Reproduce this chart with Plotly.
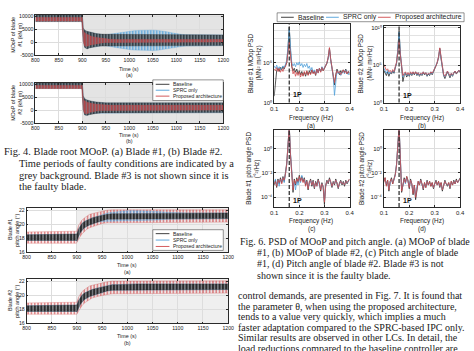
import plotly.graph_objects as go

W, H = 474, 351
SANS = "Liberation Sans, Arial, sans-serif"
SERIF = "Liberation Serif, Times New Roman, serif"
TXT = "#222222"

C_BASE = "#2b2b2b"
C_SPRC = "#4f9fd9"
C_PROP = "#cf4a4c"

# ---------------- time-domain data (envelopes of the oscillating signals) ----------------
T_M = [800, 899, 900, 902, 905, 910, 915, 920, 930, 940, 950, 960, 970, 980, 990,
       1000, 1010, 1020, 1030, 1040, 1050, 1060, 1070, 1080, 1090, 1100, 1110, 1120, 1150, 1200]

M1_BASE_HI = [10400, 10400, 10400, 5500, 4600, 4200, 3900, 3600, 3300, 3100, 3000, 3000, 3000, 3000, 3000,
              2900, 2900, 2900, 2900, 2900, 2900, 2900, 2900, 2800, 2800, 2800, 2800, 2800, 2800, 2800]
M1_BASE_LO = [7900, 7900, 7900, 500, -2000, -2600, -2200, -1900, -1700, -1500, -1500, -1400, -1400, -1400, -1400,
              -1400, -1400, -1400, -1400, -1400, -1400, -1400, -1400, -1300, -1300, -1300, -1300, -1300, -1300, -1300]
M1_SPRC_HI = [10300, 10300, 10300, 5400, 4500, 4100, 3800, 3500, 3200, 3000, 2900, 3100, 3400, 3700, 4000,
              4200, 4400, 4500, 4600, 4600, 4600, 4500, 4300, 4000, 3600, 3200, 3000, 2900, 2800, 2800]
M1_SPRC_LO = [8000, 8000, 8000, 400, -1900, -2500, -2100, -1800, -1600, -1400, -1400, -1700, -2000, -2300, -2600,
              -2800, -3000, -3100, -3200, -3200, -3200, -3100, -2900, -2600, -2300, -2000, -1700, -1500, -1300, -1300]
M1_PROP_HI = [9500, 9500, 9500, 4500, 3500, 3000, 2500, 2200, 1800, 1500, 1200, 1100, 1000, 1000, 1000,
              1000, 1000, 1000, 1000, 1000, 1000, 1000, 1000, 1000, 1000, 1000, 1000, 1000, 1000, 1000]
M1_PROP_LO = [8100, 8100, 8100, 0, -1500, -1600, -1200, -900, -600, -300, -100, 0, 100, 100, 100,
              100, 100, 100, 100, 100, 100, 100, 100, 100, 100, 100, 100, 100, 100, 100]

M2_BASE_HI = [10500, 10500, 10500, 5600, 4500, 4000, 3700, 3500, 3200, 3000, 2900, 2900, 2900, 2900, 2900,
              2900, 2900, 2900, 2900, 2900, 2900, 2900, 2900, 2900, 2900, 2900, 2900, 2900, 2900, 2900]
M2_BASE_LO = [8400, 8400, 8400, 200, -1800, -2000, -1700, -1400, -1200, -1000, -900, -900, -900, -900, -900,
              -900, -900, -900, -900, -900, -900, -900, -900, -900, -900, -900, -900, -900, -900, -900]
M2_SPRC_HI = [10400, 10400, 10400, 5500, 4400, 3900, 3600, 3400, 3100, 2900, 2800, 2800, 2800, 2800, 2800,
              2800, 2800, 2800, 2800, 2800, 2800, 2800, 2800, 2800, 2800, 2800, 2800, 2800, 2800, 2800]
M2_SPRC_LO = [8500, 8500, 8500, 300, -1700, -1900, -1600, -1300, -1100, -1000, -1000, -1100, -1100, -1000, -1000,
              -900, -900, -900, -900, -900, -900, -900, -900, -900, -900, -900, -900, -900, -900, -900]
M2_PROP_HI = [9600, 9600, 9600, 4500, 3600, 3100, 2800, 2600, 2300, 2100, 2000, 1900, 1900, 1900, 1900,
              1900, 1900, 1900, 1900, 1900, 1900, 1900, 1900, 1900, 1900, 1900, 1900, 1900, 1900, 1900]
M2_PROP_LO = [8400, 8400, 8400, 0, -1200, -1300, -900, -600, -300, -100, 0, 100, 100, 100, 100,
              100, 100, 100, 100, 100, 100, 100, 100, 100, 100, 100, 100, 100, 100, 100]

T_P = [800, 899, 900, 903, 906, 910, 915, 920, 925, 930, 940, 950, 960, 970, 980,
       1000, 1020, 1040, 1060, 1080, 1100, 1120, 1150, 1200]

P1_BASE_HI = [18.5, 18.5, 18.6, 19.3, 19.7, 20.1, 20.4, 20.6, 20.8, 20.9, 21.1, 21.3, 21.4, 21.5, 21.5,
              21.6, 21.6, 21.6, 21.6, 21.6, 21.6, 21.6, 21.6, 21.6]
P1_BASE_LO = [17.7, 17.7, 17.6, 18.2, 18.7, 19.1, 19.5, 19.7, 19.9, 20.1, 20.3, 20.5, 20.7, 20.8, 20.8,
              20.8, 20.8, 20.8, 20.8, 20.8, 20.8, 20.8, 20.8, 20.8]
P1_SPRC_HI = [18.5, 18.5, 18.6, 19.3, 19.7, 20.1, 20.4, 20.6, 20.8, 20.9, 21.1, 21.4, 21.6, 21.7, 21.8,
              21.9, 21.9, 21.9, 21.8, 21.7, 21.6, 21.6, 21.6, 21.6]
P1_SPRC_LO = [17.7, 17.7, 17.6, 18.2, 18.7, 19.1, 19.5, 19.7, 19.9, 20.1, 20.3, 20.4, 20.5, 20.5, 20.5,
              20.5, 20.5, 20.5, 20.6, 20.7, 20.8, 20.8, 20.8, 20.8]
P1_PROP_HI = [18.9, 18.9, 19.0, 19.8, 20.2, 20.6, 20.9, 21.2, 21.4, 21.5, 21.7, 21.9, 22.0, 22.05, 22.05,
              22.05, 22.05, 22.05, 22.05, 22.05, 22.05, 22.05, 22.05, 22.05]
P1_PROP_LO = [17.3, 17.3, 17.3, 17.8, 18.2, 18.6, 19.0, 19.3, 19.5, 19.7, 19.9, 20.1, 20.2, 20.3, 20.3,
              20.3, 20.3, 20.3, 20.3, 20.3, 20.3, 20.3, 20.3, 20.3]

P2_BASE_HI = [18.5, 18.5, 18.6, 19.2, 19.6, 20.0, 20.3, 20.5, 20.7, 20.8, 21.0, 21.2, 21.4, 21.5, 21.5,
              21.6, 21.6, 21.6, 21.6, 21.6, 21.6, 21.6, 21.6, 21.6]
P2_BASE_LO = [17.7, 17.7, 17.6, 18.1, 18.6, 19.0, 19.4, 19.6, 19.8, 20.0, 20.2, 20.4, 20.6, 20.7, 20.8,
              20.8, 20.8, 20.8, 20.8, 20.8, 20.8, 20.8, 20.8, 20.8]
P2_SPRC_HI = [18.5, 18.5, 18.6, 19.2, 19.6, 20.0, 20.3, 20.5, 20.7, 20.8, 21.0, 21.2, 21.4, 21.5, 21.5,
              21.6, 21.6, 21.6, 21.6, 21.6, 21.6, 21.6, 21.6, 21.6]
P2_SPRC_LO = [17.7, 17.7, 17.6, 18.1, 18.6, 19.0, 19.4, 19.6, 19.8, 20.0, 20.2, 20.4, 20.6, 20.7, 20.8,
              20.8, 20.8, 20.8, 20.8, 20.8, 20.8, 20.8, 20.8, 20.8]
P2_PROP_HI = [18.9, 18.9, 19.0, 19.7, 20.1, 20.5, 20.8, 21.1, 21.3, 21.4, 21.6, 21.8, 21.9, 22.0, 22.0,
              22.05, 22.05, 22.05, 22.05, 22.05, 22.05, 22.05, 22.05, 22.05]
P2_PROP_LO = [17.3, 17.3, 17.3, 17.7, 18.1, 18.5, 18.9, 19.2, 19.4, 19.6, 19.8, 20.0, 20.1, 20.2, 20.3,
              20.3, 20.3, 20.3, 20.3, 20.3, 20.3, 20.3, 20.3, 20.3]

# ---------------- PSD data (log10 of PSD) ----------------
FREQ = [0.100, 0.105, 0.110, 0.115, 0.120, 0.125, 0.130, 0.135, 0.140, 0.145,
        0.150, 0.155, 0.160, 0.165, 0.170, 0.175, 0.180, 0.185, 0.190, 0.195,
        0.200, 0.205, 0.210, 0.215, 0.220, 0.225, 0.230, 0.235, 0.240, 0.245,
        0.250, 0.255, 0.260, 0.265, 0.270, 0.275, 0.280, 0.285, 0.290, 0.295,
        0.300, 0.305, 0.310, 0.315, 0.320, 0.325, 0.330, 0.335, 0.340, 0.345,
        0.350, 0.355, 0.360, 0.365, 0.370, 0.375, 0.380, 0.385, 0.390, 0.395, 0.400]

PA_BASE = [0.8, 2.5, 4.0, 4.3, 3.9, 4.4, 4.1, 4.5, 4.2, 4.7,
           5.0, 6.8, 9.5, 6.5, 4.5, 4.0, 4.3, 3.8, 4.2, 3.6,
           4.0, 3.5, 3.9, 3.4, 3.8, 3.3, 3.9, 3.5, 4.0, 3.6,
           4.1, 3.7, 3.9, 3.4, 4.2, 3.8, 4.3, 3.9, 4.4, 4.0,
           4.3, 4.5, 4.9, 5.6, 6.8, 5.4, 4.3, 3.6, 2.2, 3.5,
           4.2, 3.8, 3.5, 4.0, 3.7, 4.1, 3.8, 4.2, 3.6, 3.9, 3.5]
PA_SPRC = [4.6, 4.3, 4.7, 4.2, 4.5, 4.1, 4.4, 4.6, 4.3, 4.8,
           5.3, 7.0, 9.3, 6.9, 5.0, 4.6, 4.9, 4.5, 5.0, 4.7,
           5.1, 4.6, 4.9, 4.4, 4.8, 4.5, 4.9, 4.3, 4.6, 4.0,
           4.4, 3.8, 4.1, 3.6, 4.2, 3.7, 4.3, 3.9, 4.5, 4.1,
           4.4, 4.6, 5.0, 5.6, 6.7, 5.3, 4.2, 3.4, 0.9, 3.0,
           4.0, 3.6, 3.9, 3.4, 3.8, 4.0, 3.6, 4.1, 3.7, 3.5, 3.9]
PA_PROP = [4.2, 4.0, 4.4, 3.9, 4.3, 3.8, 4.2, 3.9, 4.4, 4.5,
           5.0, 6.0, 7.6, 5.8, 4.3, 3.6, 4.0, 3.3, 3.8, 3.4,
           3.9, 3.2, 3.7, 3.3, 3.9, 3.5, 4.0, 3.4, 3.8, 3.5,
           4.1, 3.6, 3.9, 3.5, 4.2, 3.7, 4.3, 3.8, 4.4, 4.0,
           4.3, 4.6, 5.0, 5.7, 6.9, 5.4, 4.3, 3.5, 2.5, 3.4,
           4.0, 3.7, 3.9, 3.5, 3.9, 4.1, 3.7, 4.0, 3.6, 3.9, 3.7]

PB_BASE = [4.3, 4.0, 3.6, 4.1, 3.5, 4.0, 3.8, 4.2, 3.9, 4.6,
           5.2, 7.0, 9.6, 6.5, 4.2, 2.8, 3.6, 3.9, 3.4, 3.8,
           3.5, 3.9, 3.6, 4.0, 3.7, 4.1, 3.6, 3.9, 3.5, 3.8,
           3.6, 4.0, 3.7, 3.9, 3.5, 3.8, 3.6, 4.0, 3.7, 4.1,
           4.4, 4.8, 5.3, 6.0, 7.2, 5.8, 4.6, 3.6, 3.2, 3.8,
           4.1, 3.7, 3.3, 3.8, 3.5, 3.9, 4.2, 3.8, 4.0, 4.3, 4.0]
PB_SPRC = [4.6, 4.2, 3.9, 4.3, 3.8, 4.1, 3.9, 4.3, 4.0, 4.7,
           5.3, 7.1, 9.4, 6.6, 4.4, 3.4, 3.8, 4.0, 3.6, 3.9,
           3.6, 4.0, 3.7, 4.1, 3.8, 4.0, 3.7, 4.0, 3.6, 3.9,
           3.7, 4.1, 3.8, 4.0, 3.6, 3.9, 3.7, 4.1, 3.8, 4.2,
           4.5, 4.9, 5.4, 6.1, 7.2, 5.9, 4.7, 3.7, 3.4, 3.9,
           4.2, 3.8, 3.5, 3.9, 3.6, 4.0, 4.2, 3.9, 4.1, 4.3, 4.1]
PB_PROP = [5.1, 4.7, 4.3, 4.5, 4.1, 4.3, 4.0, 4.4, 4.1, 4.8,
           5.4, 6.6, 8.3, 6.3, 4.5, 3.6, 3.9, 4.1, 3.7, 4.0,
           3.7, 4.1, 3.8, 4.1, 3.8, 4.1, 3.8, 4.0, 3.7, 3.9,
           3.8, 4.1, 3.8, 4.0, 3.7, 3.9, 3.8, 4.1, 3.9, 4.2,
           4.5, 4.9, 5.4, 6.1, 7.3, 5.9, 4.7, 3.8, 3.5, 3.9,
           4.2, 3.9, 3.6, 3.9, 3.7, 4.0, 4.2, 3.9, 4.1, 4.3, 4.1]

PC_BASE = [-3.0, -2.6, -3.2, -2.5, -2.9, -2.4, -2.8, -2.3, -2.7, -2.0,
           -1.2, 0.3, 1.8, -0.5, -2.0, -3.6, -2.5, -3.0, -2.4, -2.8,
           -2.2, -2.6, -2.3, -2.7, -2.4, -3.0, -2.6, -3.4, -2.8, -2.5,
           -3.1, -2.6, -3.3, -2.7, -3.0, -2.5, -2.9, -3.5, -2.8, -3.2,
           -4.6, -3.0, -2.6, -2.9, -2.4, -2.8, -3.2, -2.7, -3.0, -2.5,
           -2.9, -3.3, -2.8, -2.6, -3.0, -2.7, -3.1, -2.6, -2.9, -2.7, -2.5]
PC_SPRC = [-2.8, -2.5, -3.0, -2.6, -3.1, -2.5, -2.7, -2.4, -2.8, -2.1,
           -1.3, 0.2, 1.8, -0.4, -2.2, -3.2, -2.8, -3.4, -2.6, -3.0,
           -2.4, -2.8, -2.2, -2.6, -2.5, -2.9, -2.7, -3.2, -2.9, -2.6,
           -3.0, -2.7, -3.2, -2.8, -3.1, -2.6, -3.0, -3.3, -2.9, -3.1,
           -4.3, -3.1, -2.7, -2.8, -2.5, -2.9, -3.1, -2.8, -2.9, -2.6,
           -2.8, -3.2, -2.9, -2.7, -2.9, -2.8, -3.0, -2.7, -2.8, -2.7, -2.6]
PC_PROP = [-2.9, -2.7, -3.1, -2.6, -2.8, -2.5, -2.9, -2.4, -2.6, -2.1,
           -1.3, 0.1, 1.8, -0.6, -2.1, -3.4, -2.6, -2.9, -2.5, -2.7,
           -2.3, -2.7, -2.4, -2.8, -2.5, -3.1, -2.7, -3.3, -2.7, -2.6,
           -3.0, -2.7, -3.2, -2.8, -3.1, -2.6, -2.8, -3.4, -2.9, -3.1,
           -4.4, -3.1, -2.7, -2.8, -2.5, -2.7, -3.1, -2.8, -2.9, -2.6,
           -2.8, -3.2, -2.9, -2.7, -2.9, -2.8, -3.0, -2.7, -2.8, -2.6, -2.5]

PD_BASE = [-2.7, -2.4, -3.0, -2.6, -3.5, -2.7, -2.4, -2.9, -2.5, -2.1,
           -1.3, 0.2, 1.8, -0.8, -3.6, -3.0, -2.4, -2.8, -2.3, -2.6,
           -3.3, -2.5, -2.9, -3.8, -3.0, -4.2, -3.2, -2.7, -3.0, -2.5,
           -2.9, -3.4, -2.8, -3.2, -2.6, -3.0, -2.7, -3.1, -2.8, -3.3,
           -2.9, -2.6, -3.0, -2.7, -3.2, -2.8, -3.5, -3.0, -2.6, -2.9,
           -3.1, -2.8, -3.3, -2.7, -3.0, -2.6, -2.9, -2.5, -2.8, -2.6, -2.4]
PD_SPRC = [-2.6, -2.5, -2.9, -2.7, -3.3, -2.8, -2.5, -2.8, -2.6, -2.2,
           -1.3, 0.2, 1.8, -0.7, -3.3, -3.1, -2.5, -2.9, -2.4, -2.7,
           -3.1, -2.6, -3.0, -3.5, -3.1, -3.9, -3.1, -2.8, -2.9, -2.6,
           -3.0, -3.3, -2.9, -3.1, -2.7, -3.0, -2.8, -3.0, -2.9, -3.2,
           -2.9, -2.7, -3.0, -2.8, -3.1, -2.9, -3.4, -3.0, -2.7, -2.9,
           -3.0, -2.9, -3.2, -2.8, -2.9, -2.7, -2.9, -2.6, -2.8, -2.6, -2.5]
PD_PROP = [-2.8, -2.4, -3.1, -2.6, -3.4, -2.7, -2.5, -2.9, -2.5, -2.2,
           -1.4, 0.1, 1.8, -0.9, -3.5, -3.0, -2.5, -2.8, -2.3, -2.7,
           -3.2, -2.6, -2.9, -3.7, -3.0, -4.0, -3.2, -2.7, -3.0, -2.6,
           -2.9, -3.3, -2.8, -3.2, -2.7, -3.0, -2.7, -3.1, -2.8, -3.2,
           -2.9, -2.7, -3.0, -2.7, -3.1, -2.8, -3.4, -3.0, -2.7, -2.9,
           -3.0, -2.8, -3.2, -2.7, -3.0, -2.7, -2.9, -2.6, -2.8, -2.6, -2.5]

LABELS = ["Baseline", "SPRC only", "Proposed architecture"]
MOOP_TICKS = [-5000, 0, 5000, 10000]
MOOP_TICKTEXT = ["-5000", "0", "5000", "10000"]
PITCH_TICKS = [16, 18, 20, 22]
TIME_TICKS = [800, 850, 900, 950, 1000, 1050, 1100, 1150, 1200]
FREQ_TICKS = [0.1, 0.2, 0.3, 0.4]
SUP = {0: "10\u2070", 5: "10\u2075", 10: "10\u00b9\u2070", -2: "10\u207b\u00b2", -4: "10\u207b\u2074"}

# ---------------- figure ----------------
fig = go.Figure()

# pixel boxes: (left, right, top, bottom)
BOX = {
    1: (32, 224, 13, 54),
    2: (32, 224, 82, 123),
    3: (23, 229, 209, 254),
    4: (23, 229, 281, 326),
    5: (276, 353, 22, 102),
    6: (388, 466, 24, 102),
    7: (276, 353, 130, 208),
    8: (388, 466, 130, 208),
}

def xdom(i):
    l, r, t, b = BOX[i]
    return [l / W, r / W]

def ydom(i):
    l, r, t, b = BOX[i]
    return [1 - b / H, 1 - t / H]

def axstyle(size):
    return dict(showline=True, linecolor="#2a2a2a", linewidth=0.6, mirror="ticks",
                ticks="inside", ticklen=2, tickwidth=0.5, tickcolor="#2a2a2a",
                showgrid=True, gridcolor="#dddddd", gridwidth=0.5, zeroline=False,
                tickfont=dict(family=SANS, size=size, color=TXT), fixedrange=True)

layout = {}
for i in range(1, 9):
    xa = "xaxis" if i == 1 else f"xaxis{i}"
    ya = "yaxis" if i == 1 else f"yaxis{i}"
    anchor_x = "y" if i == 1 else f"y{i}"
    anchor_y = "x" if i == 1 else f"x{i}"
    fs = 5.2 if i <= 4 else 6.0
    xs = axstyle(fs)
    ys = axstyle(fs)
    xs.update(domain=xdom(i), anchor=anchor_x)
    ys.update(domain=ydom(i), anchor=anchor_y)
    if i <= 4:
        xs.update(range=[800, 1200], tickvals=TIME_TICKS, ticktext=[str(v) for v in TIME_TICKS])
        if i <= 2:
            ys.update(range=[-5000, 10500 if i == 1 else 10600], tickvals=MOOP_TICKS, ticktext=MOOP_TICKTEXT)
        else:
            ys.update(range=[16, 22.3], tickvals=PITCH_TICKS, ticktext=[str(v) for v in PITCH_TICKS])
    else:
        xs.update(range=[0.1, 0.4], tickvals=FREQ_TICKS, ticktext=["0.1", "0.2", "0.3", "0.4"])
        if i <= 6:
            top = 9.9 if i == 5 else 10.26
            major = [0, 5, 10] if i == 6 else [0, 5]
            ys.update(type="log", range=[0, top], tickvals=[10 ** k for k in major],
                      ticktext=[SUP[k] for k in major],
                      minor=dict(tickvals=[10 ** k for k in range(0, 11)], showgrid=True,
                                 gridcolor="#e2e2e2", gridwidth=0.5, ticks=""))
        else:
            major = [-4, -2, 0]
            ys.update(type="log", range=[-4.8, 1.5], tickvals=[10 ** k for k in major],
                      ticktext=[SUP[k] for k in major],
                      minor=dict(tickvals=[10 ** k for k in range(-4, 2)], showgrid=True,
                                 gridcolor="#e2e2e2", gridwidth=0.5, ticks=""))
    layout[xa] = xs
    layout[ya] = ys

fig.update_layout(**layout)

def ax(i):
    return ("x" if i == 1 else f"x{i}"), ("y" if i == 1 else f"y{i}")

# grey background for faulty period
for i, col in [(1, "#e4e4e4"), (2, "#e4e4e4"), (3, "#efefef"), (4, "#efefef")]:
    xr, yr = ax(i)
    fig.add_shape(type="rect", xref=xr, yref=yr + " domain", x0=900, x1=1200, y0=0, y1=1,
                  fillcolor=col, line=dict(width=0), layer="below")

def band(i, t, hi, lo, color, bg, size, sol):
    xr, yr = ax(i)
    fig.add_trace(go.Scatter(
        x=t + t[::-1], y=hi + lo[::-1], xaxis=xr, yaxis=yr, mode="lines",
        line=dict(color=color, width=0.3), fill="toself", fillcolor=bg,
        fillpattern=dict(shape="|", size=size, solidity=sol, fgcolor=color, bgcolor=bg, fillmode="replace"),
        showlegend=False, hoverinfo="skip"))

# MOoP: SPRC (widest) behind, then baseline, then proposed on top
band(1, T_M, M1_SPRC_HI, M1_SPRC_LO, C_SPRC, "rgba(79,159,217,0.18)", 3, 0.4)
band(1, T_M, M1_BASE_HI, M1_BASE_LO, C_BASE, "rgba(50,50,50,0.3)", 3, 0.55)
band(1, T_M, M1_PROP_HI, M1_PROP_LO, C_PROP, "rgba(207,74,76,0.22)", 3, 0.45)
band(2, T_M, M2_SPRC_HI, M2_SPRC_LO, C_SPRC, "rgba(79,159,217,0.18)", 3, 0.4)
band(2, T_M, M2_BASE_HI, M2_BASE_LO, C_BASE, "rgba(50,50,50,0.3)", 3, 0.55)
band(2, T_M, M2_PROP_HI, M2_PROP_LO, C_PROP, "rgba(207,74,76,0.22)", 3, 0.45)
# pitch: proposed spikes widest behind, then SPRC, then baseline
band(3, T_P, P1_PROP_HI, P1_PROP_LO, C_PROP, "rgba(207,74,76,0.06)", 3.3, 0.3)
band(3, T_P, P1_SPRC_HI, P1_SPRC_LO, C_SPRC, "rgba(79,159,217,0.15)", 3.3, 0.35)
band(3, T_P, P1_BASE_HI, P1_BASE_LO, C_BASE, "rgba(40,40,40,0.55)", 3.3, 0.5)
band(4, T_P, P2_PROP_HI, P2_PROP_LO, C_PROP, "rgba(207,74,76,0.06)", 3.3, 0.3)
band(4, T_P, P2_SPRC_HI, P2_SPRC_LO, C_SPRC, "rgba(79,159,217,0.15)", 3.3, 0.35)
band(4, T_P, P2_BASE_HI, P2_BASE_LO, C_BASE, "rgba(40,40,40,0.55)", 3.3, 0.5)

# PSD curves
def psd(i, vals, color):
    xr, yr = ax(i)
    fig.add_trace(go.Scatter(x=FREQ, y=[10 ** v for v in vals], xaxis=xr, yaxis=yr, mode="lines",
                             line=dict(color=color, width=0.8), showlegend=False, hoverinfo="skip"))

for i, (b, s, p) in {5: (PA_BASE, PA_SPRC, PA_PROP), 6: (PB_BASE, PB_SPRC, PB_PROP),
                     7: (PC_BASE, PC_SPRC, PC_PROP), 8: (PD_BASE, PD_SPRC, PD_PROP)}.items():
    psd(i, b, C_BASE)
    psd(i, s, C_SPRC)
    psd(i, p, C_PROP)
    xr, yr = ax(i)
    fig.add_shape(type="line", xref=xr, yref=yr + " domain", x0=0.16, x1=0.16, y0=0, y1=1,
                  line=dict(color="#333333", width=1.3, dash="4px,2px"), layer="above")
    fig.add_annotation(text="1P", x=0.167, y=(1.0 if i <= 6 else -4.25), xref=xr, yref=yr,
                       showarrow=False, xanchor="left", yanchor="middle",
                       font=dict(family=SANS, size=7, color="#111111", weight="bold"))

# ---------------- text helpers ----------------
def note(text, x, y, size, xanchor="center", angle=0, family=SANS, color=TXT, style="normal"):
    fig.add_annotation(text=text, x=x / W, y=1 - y / H, xref="paper", yref="paper", showarrow=False,
                       xanchor=xanchor, yanchor="middle", textangle=angle,
                       font=dict(family=family, size=size, color=color, style=style), borderpad=0)

def ytitle(l1, l2, x1, x2, y, size):
    note(l1, x1, y, size, angle=-90)
    note(l2, x2, y, size, angle=-90)

# axis titles & sub-labels (left column)
LS = 5.4
ytitle("MOoP of blade", "#1 (kN m)", 8.5, 15.5, 33, LS)
note("Time (s)", 128, 67.5, LS)
note("(a)", 128, 74.5, LS)
ytitle("MOoP of blade", "#2 (kN m)", 8.5, 15.5, 102, LS)
note("Time (s)", 128, 134.5, LS)
note("(b)", 128, 141, LS)
ytitle("Blade #1", "pitch angle (°)", 5.5, 12.5, 231, LS)
note("Time (s)", 126, 267, LS)
note("(a)", 126, 274, LS)
ytitle("Blade #2", "pitch angle (°)", 5.5, 12.5, 303, LS)
note("Time (s)", 126, 339, LS)
note("(b)", 126, 346, LS)

# right column
PS = 6.4
ytitle("Blade #1 MOop PSD", "(MN² m²/Hz)", 252.5, 261, 62, PS)
ytitle("Blade #2 MOop PSD", "(MN² m²/Hz)", 365, 373.5, 62, PS)
note("Frequency (Hz)", 314, 117.5, PS)
note("(a)", 314, 125.5, PS)
note("Frequency (Hz)", 427, 117.5, PS)
note("(b)", 427, 125.5, PS)
ytitle("Blade #1 pitch angle PSD", "(°²/Hz)", 249.5, 258, 169, PS)
ytitle("Blade #2 pitch angle PSD", "(°²/Hz)", 365, 373.5, 169, PS)
note("Frequency (Hz)", 314, 222, PS)
note("(c)", 314, 230, PS)
note("Frequency (Hz)", 427, 222, PS)
note("(d)", 427, 230, PS)

# ---------------- legends (drawn manually) ----------------
COLS = [C_BASE, C_SPRC, C_PROP]

def rect(x0, x1, y0, y1):
    fig.add_shape(type="rect", xref="paper", yref="paper", x0=x0 / W, x1=x1 / W, y0=1 - y1 / H, y1=1 - y0 / H,
                  fillcolor="white", line=dict(color="#2a2a2a", width=0.5), layer="above")

def key(x0, x1, y, color):
    fig.add_shape(type="line", xref="paper", yref="paper", x0=x0 / W, x1=x1 / W, y0=1 - y / H, y1=1 - y / H,
                  line=dict(color=color, width=0.9), layer="above")

def vlegend(x0, x1, y0, y1, rows_y):
    rect(x0, x1, y0, y1)
    for lab, col, yy in zip(LABELS, COLS, rows_y):
        key(x0 + 3, x0 + 17, yy, col)
        note(lab, x0 + 20, yy, 5.0, xanchor="left")

vlegend(152, 224, 79, 100, [83.5, 89.5, 95.5])
vlegend(152, 224, 231, 252, [235, 241.5, 248])

rect(279, 470, 11, 20)
for lab, col, lx in zip(LABELS, COLS, [283, 329, 382]):
    key(lx, lx + 13, 15.5, col)
    note(lab, lx + 16, 15.5, 6.8, xanchor="left")

# ---------------- captions and body text ----------------
CAP4 = ["Fig. 4. Blade root MOoP. (a) Blade #1, (b) Blade #2.",
        "Time periods of faulty conditions are indicated by a",
        "grey background. Blade #3 is not shown since it is",
        "the faulty blade."]
for k, line in enumerate(CAP4):
    note(line, -1 if k == 0 else 14, 152 + 11.8 * k, 10.4, xanchor="left", family=SERIF, color="#1a1a1a")

CAP6 = ["Fig. 6. PSD of MOoP and pitch angle. (a) MOoP of blade",
        "#1, (b) MOoP of blade #2, (c) Pitch angle of blade",
        "#1, (d) Pitch angle of blade #2. Blade #3 is not",
        "shown since it is the faulty blade."]
for k, line in enumerate(CAP6):
    note(line, 240 if k == 0 else 257, 243 + 11.6 * k, 10.0, xanchor="left", family=SERIF, color="#1a1a1a")

BODY = ["control demands, are presented in Fig. 7. It is found that",
        "the parameter θ, when using the proposed architecture,",
        "tends to a value very quickly, which implies a much",
        "faster adaptation compared to the SPRC-based IPC only.",
        "Similar results are observed in other LCs. In detail, the",
        "load reductions compared to the baseline controller are"]
for k, line in enumerate(BODY):
    note(line, 238, 298 + 10.6 * k, 10.0, xanchor="left", family=SERIF, color="#1a1a1a")

fig.update_layout(width=W, height=H, margin=dict(l=0, r=0, t=0, b=0),
                  paper_bgcolor="white", plot_bgcolor="white", showlegend=False)

fig.write_html("out.html")
